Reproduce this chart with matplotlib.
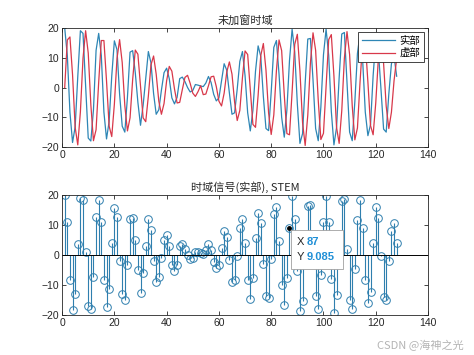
import matplotlib

matplotlib.use('Agg')
import matplotlib.pyplot as plt
import numpy as np

plt.rcParams['font.family'] = ['Liberation Sans', 'Noto Sans CJK SC', 'DejaVu Sans']
cjk = ['Noto Sans CJK SC', 'Liberation Sans', 'DejaVu Sans']

# sample index 1..128
n = np.arange(1, 129)

# real part (blue line, stems)
real_part = [20.0, 10.8, -8.3, -18.5, -13.2, 3.7, 19.1, 18.2, 0.8, -17.0,
             -18.0, -7.5, 12.5, 18.2, 10.8, -8.3, -17.3, -11.4, 3.9, 15.7,
             12.7, -2.2, -13.0, -15.0, -3.3, 11.9, 12.4, 5.0, -5.0, -12.7,
             -6.0, 3.1, 12.1, 8.3, -2.0, -9.0, -7.5, -0.9, 5.0, 6.5,
             3.0, -3.5, -5.5, -3.3, 3.0, 3.5, 2.0, 0.0, -1.5, -1.0,
             1.0, 0.8, 0.5, 0.3, 1.5, 3.7, 1.7, -2.3, -4.5, -3.5,
             2.3, 8.0, 5.8, -1.8, -9.0, -8.5, -0.5, 8.8, 12.1, 4.0,
             -8.5, -14.6, -7.7, 5.5, 14.0, 10.5, -3.0, -13.8, -14.5, -1.5,
             13.5, 15.8, 4.5, -10.0, -16.7, -7.6, 9.085, 19.6, 12.0, -5.5,
             -18.8, -15.5, 1.5, 16.3, 16.5, 2.6, -13.8, -17.9, -6.6, 11.0,
             19.6, 10.8, -8.0, -19.3, -13.5, 3.3, 18.0, 18.5, 2.0, -15.0,
             -17.9, -4.8, 11.5, 18.2, 9.0, -8.3, -16.2, -12.5, 4.0, 16.0,
             12.3, -0.5, -14.0, -15.0, -2.2, 8.0, 10.5, 3.8]

# imaginary part (red line)
imag_part = [0.0, 16.0, 17.0, 4.3, -13.4, -19.3, -8.2, 9.8, 19.1, 11.6,
             -5.8, -17.9, -14.2, 1.8, 15.8, 15.8, 2.2, -13.0, -16.5, -5.6,
             9.7, 16.1, 8.4, -6.1, -14.6, -10.2, 2.7, 12.6, 11.2, 0.3,
             -10.2, -11.5, -2.9, 7.6, 10.6, 4.5, -4.6, -9.0, -5.4, 2.3,
             7.1, 5.5, -0.5, -5.2, -5.0, -0.7, 3.4, 4.1, 1.4, -1.9,
             -3.0, -1.4, 0.6, -2.4, -2.2, 0.6, 3.6, 3.8, 0.3, -4.6,
             -6.2, -1.9, 5.2, 8.6, 4.5, -4.9, -11.1, -7.7, 3.3, 12.3,
             11.1, -0.6, -12.4, -13.4, -2.6, 10.7, 14.8, 5.9, -8.5, -15.8,
             -9.2, 5.7, 16.0, 12.4, -2.4, -15.5, -15.9, -1.5, 14.5, 17.9,
             5.5, -11.8, -19.5, -9.3, 8.2, 18.4, 12.5, -4.3, -17.5, -15.4,
             0.3, 16.1, 17.8, 3.9, -13.4, -18.8, -7.8, 9.9, 18.8, 11.1,
             -6.1, -17.6, -13.6, 2.0, 15.5, 15.3, 1.8, -12.8, -15.9, -5.2,
             9.7, 15.8, 8.1, -6.3, -13.8, -8.3, 2.3, 9.7]

tip_x = 87
tip_y = 9.085

blue = '#2e86b5'
red = '#d8384a'
stem_col = '#2f7fae'
axcol = '#262626'


def style_axes(ax):
    ax.set_xlim(0, 140)
    ax.set_ylim(-20, 20)
    ax.set_xticks(np.arange(0, 141, 20))
    ax.set_yticks([-20, -10, 0, 10, 20])
    ax.tick_params(direction='in', length=3, width=0.6, labelsize=7.5,
                   colors=axcol, top=True, right=True, pad=2)
    for s in ax.spines.values():
        s.set_linewidth(0.6)
        s.set_color(axcol)


fig = plt.figure(figsize=(4.74, 3.55), dpi=100)

# upper plot
ax1 = fig.add_axes([0.131, 0.586, 0.772, 0.335])
ax1.plot(n, real_part, color=blue, lw=0.9, label='实部')
ax1.plot(n, imag_part, color=red, lw=0.9, label='虚部')
style_axes(ax1)
ax1.set_title('未加窗时域', fontsize=8, color=axcol, family=cjk, pad=3)
leg = ax1.legend(loc='upper right', fontsize=7.5, prop={'family': cjk, 'size': 7.5},
                 handlelength=3.2, borderaxespad=0.35, fancybox=False,
                 framealpha=1, labelspacing=0.2, borderpad=0.4, handletextpad=0.4)
leg.get_frame().set_edgecolor(axcol)
leg.get_frame().set_linewidth(0.6)

# lower plot
ax2 = fig.add_axes([0.131, 0.113, 0.772, 0.338])
ml, sl, bl = ax2.stem(n, real_part, linefmt='-', markerfmt='o', basefmt=' ')
plt.setp(sl, color=stem_col, linewidth=0.8)
plt.setp(ml, markerfacecolor='none', markeredgecolor=stem_col, markersize=5.5,
         markeredgewidth=0.7)
ax2.axhline(0, color='black', lw=0.7)
style_axes(ax2)
ax2.set_title('时域信号(实部), STEM', fontsize=8, color=axcol, family=cjk, pad=3)

# data tip
ax2.plot([tip_x], [tip_y], 'o', color='black', markersize=2.5, zorder=6)
box = plt.Rectangle((tip_x + 0.4, tip_y - 13.8), 19.9, 13.0, facecolor='white',
                    edgecolor='#a0a0a0', lw=0.6, zorder=5)
ax2.add_patch(box)
ax2.text(tip_x + 2.9, tip_y - 4.7, 'X', fontsize=8, color=axcol, va='center', zorder=7)
ax2.text(tip_x + 6.6, tip_y - 4.7, f'{tip_x}', fontsize=8, color='#1f8fd6',
         fontweight='bold', va='center', zorder=7)
ax2.text(tip_x + 2.9, tip_y - 9.9, 'Y', fontsize=8, color=axcol, va='center', zorder=7)
ax2.text(tip_x + 6.6, tip_y - 9.9, f'{tip_y}', fontsize=8, color='#1f8fd6',
         fontweight='bold', va='center', zorder=7)

fig.text(0.978, 0.012, 'CSDN @海神之光', ha='right', va='bottom', fontsize=8,
         color='#b4b4b4', family=cjk)

fig.savefig('out.png', dpi=100)
